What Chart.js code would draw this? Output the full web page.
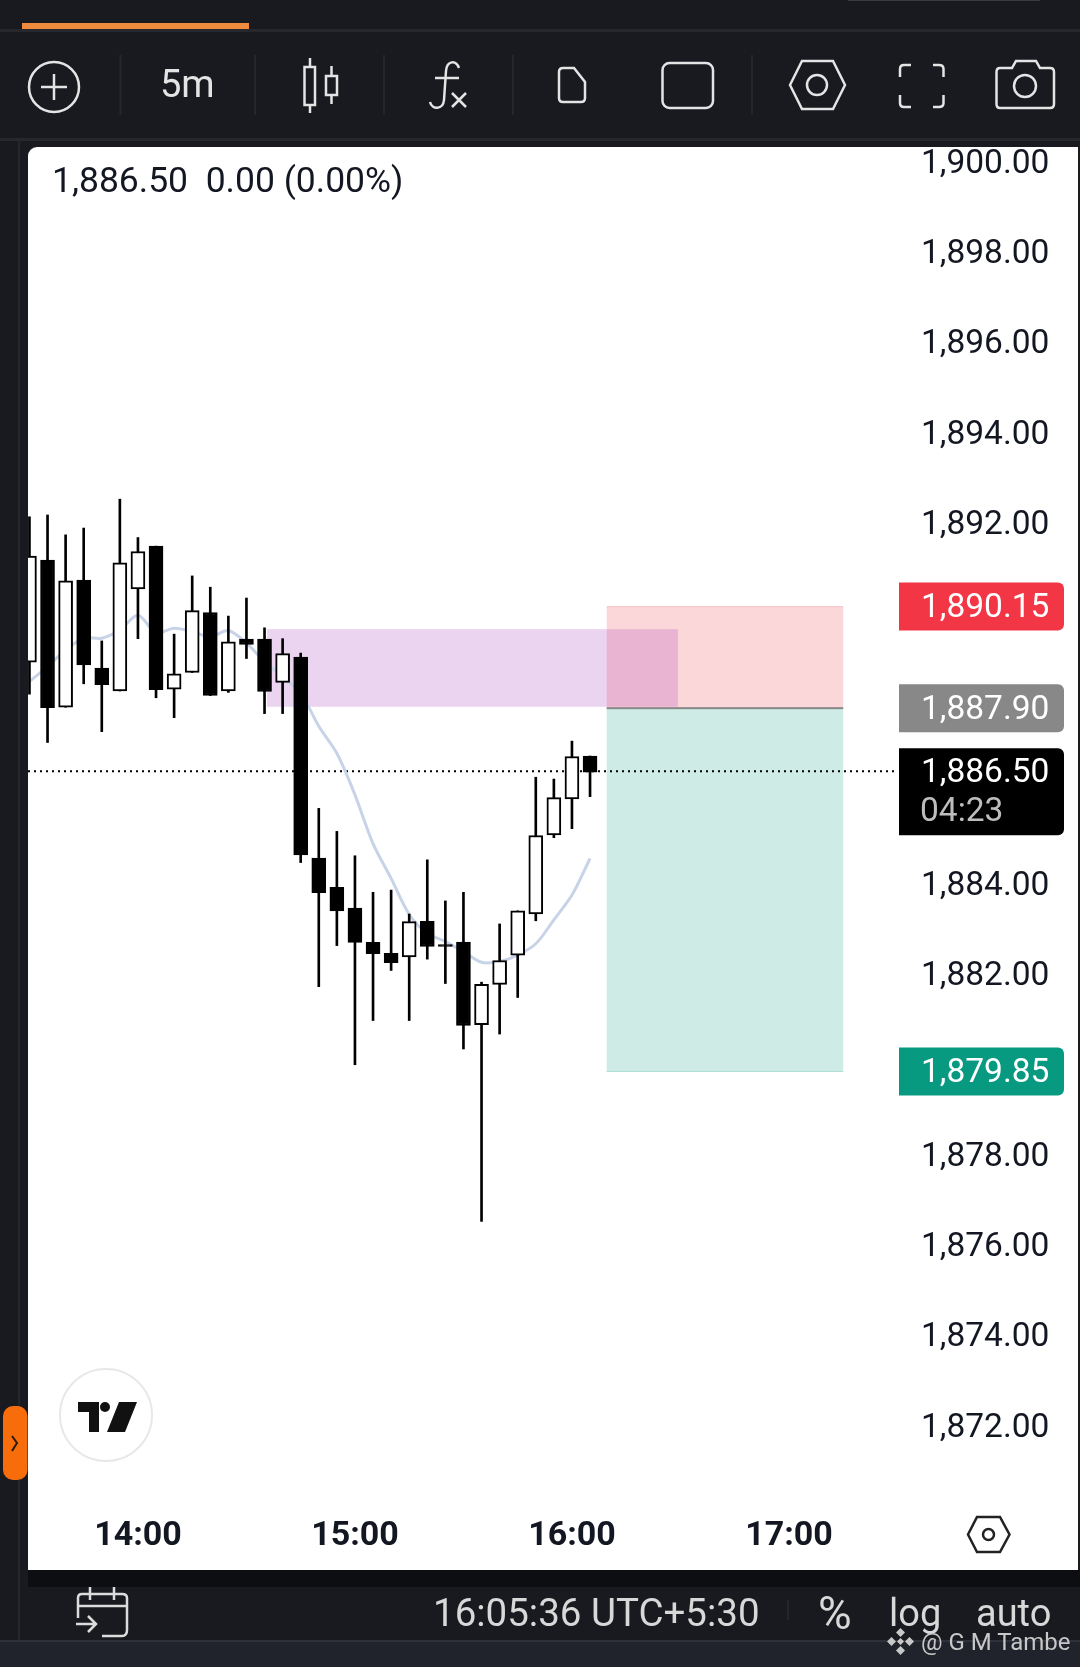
<!DOCTYPE html>
<html>
<head>
<meta charset="utf-8">
<title>5m chart</title>
<script src="https://cdn.jsdelivr.net/npm/chart.js@4/dist/chart.umd.min.js"></script>
<style>
    html, body { margin: 0; padding: 0; background: #181a20; }
    body { position: relative; width: 1080px; height: 1667px; overflow: hidden; font-family: Roboto, sans-serif; }
    .abs { position: absolute; }
    .txt { position: absolute; white-space: pre; line-height: 1; }
    #panel { left: 28px; top: 147px; width: 1050px; height: 1423px; background: #fff; border-top-left-radius: 9px; }
    #chartCanvas { position: absolute; left: 0; top: 0; }
    #icons { position: absolute; left: 0; top: 0; }
</style>
</head>
<body>

<!-- chrome behind the chart -->
<div class="abs" style="left:0;top:29px;width:1080px;height:3px;background:#26282e;"></div>
<div class="abs" style="left:22px;top:23px;width:227px;height:6px;background:#f08a3c;"></div>
<div class="abs" style="left:848px;top:0;width:192px;height:1px;background:#3a3c42;"></div>
<div class="abs" style="left:0;top:138px;width:1080px;height:3px;background:#26282e;"></div>
<div class="abs" style="left:18px;top:141px;width:2px;height:1500px;background:#24262c;"></div>
<div class="abs" style="left:28px;top:1570px;width:1052px;height:17px;background:#0d0e11;"></div>
<div class="abs" style="left:0;top:1640px;width:1080px;height:27px;background:#20232b;border-top:2px solid #2e3139;box-sizing:border-box;"></div>
<div class="abs" id="panel"></div>

<canvas id="chartCanvas" width="1080" height="1667"></canvas>

<svg id="icons" width="1080" height="1667" viewBox="0 0 1080 1667" fill="none" stroke="#e4e4e4" stroke-width="2.5">
    <!-- toolbar separators -->
    <g stroke="#24262c" stroke-width="2">
        <path d="M120.5 55V115M255 55V115M384 55V115M513 55V115M752 55V115"/>
    </g>
    <!-- add -->
    <circle cx="54" cy="87" r="25"/>
    <path d="M41 87H67M54 74V100"/>
    <!-- candles -->
    <rect x="304.5" y="67" width="10.5" height="38"/>
    <path d="M310 58V67M310 105V113"/>
    <rect x="326" y="76" width="11" height="19"/>
    <path d="M331.5 66V76M331.5 95V104"/>
    <!-- fx -->
    <path d="M459 68C456 60 447 60 446 71L444 100C443 110 432 110 430 102M435 78H459"/>
    <path d="M452 93L466 107M466 93L452 107"/>
    <!-- page -->
    <path d="M563 68H574L585 82V98Q585 102 581 102H563Q559 102 559 98V72Q559 68 563 68Z"/>
    <!-- rectangle -->
    <rect x="662.5" y="63" width="50.5" height="45" rx="7"/>
    <!-- settings hexagon -->
    <path d="M790 85L802 61H833L845 85L833 109H802Z"/>
    <circle cx="817" cy="85" r="10"/>
    <!-- fullscreen -->
    <path d="M900 77V69Q900 65 904 65H911M933 65H939Q943.5 65 943.5 69V77M943.5 95V103Q943.5 107 939 107H933M911 107H904Q900 107 900 103V95"/>
    <!-- camera -->
    <path d="M1000 68H1012L1016 61H1036L1040 68H1050Q1054 68 1054 72V104Q1054 108 1050 108H1000Q996.5 108 996.5 104V72Q996.5 68 1000 68Z"/>
    <circle cx="1025" cy="86" r="11"/>

    <!-- side tab -->
    <rect x="3" y="1406" width="24.5" height="74" rx="10" fill="#f76d0b" stroke="none"/>
    <path d="M12 1436L17 1443L12 1451" stroke="#2b1a08" stroke-width="2"/>

    <!-- logo -->
    <circle cx="106" cy="1415" r="46" stroke="#e8e8e8" stroke-width="2"/>
    <path d="M78 1402H99V1432H89V1412H78Z" fill="#111" stroke="none"/>
    <circle cx="105" cy="1407" r="5" fill="#111" stroke="none"/>
    <path d="M119 1402H137L125 1432H107Z" fill="#111" stroke="none"/>

    <!-- axis settings -->
    <path d="M968 1534.5L977 1517H1000L1009.5 1534.5L1000 1552H977Z" stroke="#222"/>
    <circle cx="988.5" cy="1534.5" r="5.5" stroke="#222"/>

    <!-- go to date -->
    <path d="M78 1618V1598Q78 1594 82 1594H122Q127 1594 127 1598V1630Q127 1636 122 1636H102" stroke="#dcdcdc"/>
    <path d="M78 1606H127M90 1587V1600M114 1587V1600" stroke="#dcdcdc"/>
    <path d="M76 1624H96M88 1616L96 1624L88 1632" stroke="#dcdcdc"/>

    <path d="M788 1600V1620" stroke="#24262c" stroke-width="2"/>

    <!-- watermark mark -->
    <g fill="#c8c8c8" stroke="none">
        <path d="M900.5 1628L905 1632.5L900.5 1637L896 1632.5Z"/>
        <path d="M900.5 1646L905 1650.5L900.5 1655L896 1650.5Z"/>
        <path d="M891.5 1637L896 1641.5L891.5 1646L887 1641.5Z"/>
        <path d="M909.5 1637L914 1641.5L909.5 1646L905 1641.5Z"/>
        <path d="M900.5 1638L904 1641.5L900.5 1645L897 1641.5Z"/>
    </g>
</svg>

<!-- texts -->
<div class="txt" style="left:52px;top:163px;font-size:35.5px;color:#131722;">1,886.50  0.00 (0.00%)</div>
<div class="txt" style="left:160px;top:65px;font-size:38px;color:#e4e4e4;">5m</div>
<div class="txt" style="left:433px;top:1594px;font-size:38.5px;color:#d8d8d8;">16:05:36 UTC+5:30</div>
<div class="txt" style="left:818px;top:1590px;font-size:46px;color:#d8d8d8;">%</div>
<div class="txt" style="left:889px;top:1594px;font-size:38px;color:#d8d8d8;">log</div>
<div class="txt" style="left:976px;top:1594px;font-size:38px;color:#d8d8d8;">auto</div>
<div class="txt" style="left:921px;top:1630px;font-size:24px;color:#c8c8c8;">@ G M Tambe</div>

<script>
    // 5 minute bars
    var times = ['13:30', '13:35', '13:40', '13:45', '13:50', '13:55', '14:00', '14:05',
        '14:10', '14:15', '14:20', '14:25', '14:30', '14:35', '14:40', '14:45',
        '14:50', '14:55', '15:00', '15:05', '15:10', '15:15', '15:20', '15:25',
        '15:30', '15:35', '15:40', '15:45', '15:50', '15:55', '16:00', '16:05'];
    var opens = [1888.92, 1891.18, 1887.92, 1890.74, 1888.79, 1888.28, 1890.54, 1891.49,
        1888.32, 1888.69, 1890.02, 1888.28, 1889.43, 1889.43, 1888.47, 1889.03,
        1884.58, 1883.93, 1883.47, 1882.71, 1882.47, 1882.39, 1883.18, 1882.66,
        1882.72, 1880.89, 1881.78, 1882.43, 1883.34, 1885.09, 1885.89, 1886.84];
    var closes = [1891.27, 1887.91, 1890.72, 1888.86, 1888.42, 1891.12, 1891.37, 1888.31,
        1888.66, 1890.06, 1888.18, 1889.37, 1889.31, 1888.27, 1889.11, 1884.65,
        1883.81, 1883.41, 1882.71, 1882.46, 1882.26, 1883.17, 1882.62, 1882.62,
        1880.87, 1881.78, 1882.31, 1883.41, 1885.08, 1885.92, 1886.83, 1886.48];
    var highs = [1892.14, 1892.18, 1891.74, 1891.89, 1889.39, 1892.53, 1891.68, 1891.49,
        1889.54, 1890.83, 1890.58, 1889.94, 1890.34, 1889.68, 1889.44, 1889.12,
        1885.68, 1885.17, 1884.63, 1883.82, 1883.87, 1883.34, 1884.54, 1883.63,
        1883.82, 1881.83, 1883.12, 1883.41, 1886.37, 1886.33, 1887.17, 1886.84];
    var lows = [1888.21, 1887.14, 1887.92, 1888.44, 1887.38, 1888.28, 1889.44, 1888.13,
        1887.69, 1888.69, 1888.18, 1888.25, 1889.00, 1887.78, 1887.78, 1884.48,
        1881.73, 1882.64, 1880.00, 1880.98, 1882.09, 1880.98, 1882.34, 1881.80,
        1880.35, 1876.53, 1880.68, 1881.49, 1883.19, 1885.03, 1885.23, 1885.94];
    var maValues = [1888.49, 1888.82, 1889.19, 1889.45, 1889.45, 1889.63, 1889.96, 1889.57,
        1889.67, 1889.60, 1889.48, 1889.62, 1889.34, 1888.93, 1888.60, 1888.23,
        1887.50, 1886.90, 1885.98, 1884.90, 1884.13, 1883.33, 1882.91, 1882.73,
        1882.51, 1882.27, 1882.29, 1882.43, 1882.68, 1883.21, 1883.76, 1884.57];

    var priceTicks = [1900, 1898, 1896, 1894, 1892, 1884, 1882, 1878, 1876, 1874, 1872];
    var timeTicks = ['14:00', '15:00', '16:00', '17:00'];

    var lastPrice = 1886.50;
    var countdown = '04:23';
    var stopPrice = 1890.15;
    var entryPrice = 1887.90;
    var targetPrice = 1879.85;
    var positionTimes = ['16:09.6', '17:15'];
    var supplyTimes = ['14:35.7', '16:29.3'];
    var supplyPrices = [1889.65, 1887.93];

    function toMinutes(t) {
        var p = t.split(':');
        return parseInt(p[0], 10) * 60 + parseFloat(p[1]);
    }

    function pad(n) {
        return (n < 10 ? '0' : '') + n;
    }

    function formatPrice(v) {
        return v.toLocaleString('en-US', { minimumFractionDigits: 2, maximumFractionDigits: 2 });
    }

    var xMin = 809.6;
    var xMax = 1050.15;

    var wickData = [];
    var bodyData = [];
    var maData = [];
    var bodyFill = [];
    for (var i = 0; i < times.length; i++) {
        var m = toMinutes(times[i]);
        wickData.push({ x: m, y: [lows[i], highs[i]] });
        bodyData.push({ x: m, y: [opens[i], closes[i]] });
        maData.push({ x: m, y: maValues[i] });
        bodyFill.push(closes[i] >= opens[i] ? '#ffffff' : '#000000');
    }

    // position box and supply box sit under the candles
    var zonesPlugin = {
        id: 'zones',
        beforeDatasetsDraw: function (chart) {
            var c = chart.ctx;
            var xs = chart.scales.x;
            var ys = chart.scales.y;
            var left = xs.getPixelForValue(toMinutes(positionTimes[0]));
            var right = xs.getPixelForValue(toMinutes(positionTimes[1]));
            var stopY = ys.getPixelForValue(stopPrice);
            var entryY = ys.getPixelForValue(entryPrice);
            var targetY = ys.getPixelForValue(targetPrice);

            c.save();
            c.fillStyle = 'rgba(242,54,69,0.2)';
            c.fillRect(left, stopY, right - left, entryY - stopY);
            c.fillStyle = 'rgba(8,153,129,0.2)';
            c.fillRect(left, entryY, right - left, targetY - entryY);

            c.fillStyle = 'rgba(242,54,69,0.22)';
            c.fillRect(left, stopY - 0.5, right - left, 1);
            c.fillStyle = 'rgba(8,153,129,0.25)';
            c.fillRect(left, targetY - 0.5, right - left, 1);
            c.fillStyle = '#888888';
            c.fillRect(left, entryY - 1, right - left, 2);

            var sl = xs.getPixelForValue(toMinutes(supplyTimes[0]));
            var sr = xs.getPixelForValue(toMinutes(supplyTimes[1]));
            var st = ys.getPixelForValue(supplyPrices[0]);
            var sb = ys.getPixelForValue(supplyPrices[1]);
            c.fillStyle = 'rgba(156,39,176,0.2)';
            c.fillRect(sl, st, sr - sl, sb - st);
            c.restore();
        }
    };

    function priceTag(chart, value, color, height, offsetTop) {
        var c = chart.ctx;
        var y = chart.scales.y.getPixelForValue(value);
        var top = y - offsetTop;
        c.fillStyle = color;
        c.beginPath();
        c.roundRect(899, top, 165, height, [0, 6, 6, 0]);
        c.fill();
        c.fillStyle = '#ffffff';
        c.font = '33.5px Roboto';
        c.textAlign = 'left';
        c.textBaseline = 'middle';
        c.fillText(formatPrice(value), 921, y + 2.5);
    }

    var tagsPlugin = {
        id: 'tags',
        afterDraw: function (chart) {
            var c = chart.ctx;
            c.save();
            priceTag(chart, stopPrice, '#f23645', 48, 24);
            priceTag(chart, entryPrice, '#888888', 48, 24);
            priceTag(chart, targetPrice, '#089981', 48, 24);
            priceTag(chart, lastPrice, '#000000', 87, 23);
            c.fillStyle = '#bdbdbd';
            c.fillText(countdown, 920, chart.scales.y.getPixelForValue(lastPrice) + 41);
            c.restore();
        }
    };

    new Chart(document.getElementById('chartCanvas'), {
        data: {
            datasets: [
                {
                    type: 'line',
                    label: 'Last',
                    data: [{ x: xMin, y: lastPrice }, { x: xMax - 0.6, y: lastPrice }],
                    borderColor: '#000000',
                    borderWidth: 2,
                    borderDash: [2, 4],
                    pointRadius: 0,
                    order: 4
                },
                {
                    type: 'line',
                    label: 'MA',
                    data: maData,
                    borderColor: '#c8d3e8',
                    borderWidth: 3,
                    pointRadius: 0,
                    tension: 0.3,
                    order: 3
                },
                {
                    type: 'bar',
                    label: 'Wick',
                    data: wickData,
                    backgroundColor: '#000000',
                    barThickness: 2,
                    grouped: false,
                    order: 2
                },
                {
                    type: 'bar',
                    label: 'Body',
                    data: bodyData,
                    backgroundColor: bodyFill,
                    borderColor: '#000000',
                    borderWidth: 2,
                    borderSkipped: false,
                    barThickness: 14,
                    grouped: false,
                    order: 1
                }
            ]
        },
        options: {
            responsive: false,
            animation: false,
            events: [],
            layout: { padding: { left: 28, top: 147, right: 2, bottom: 97 } },
            plugins: { legend: { display: false }, tooltip: { enabled: false } },
            scales: {
                x: {
                    type: 'linear',
                    offset: false,
                    min: xMin,
                    max: xMax,
                    grid: { display: false, drawTicks: false, offset: false },
                    border: { display: false },
                    afterBuildTicks: function (axis) {
                        axis.ticks = timeTicks.map(function (t) { return { value: toMinutes(t) }; });
                    },
                    afterFit: function (axis) { axis.height = 70; },
                    ticks: {
                        autoSkip: false,
                        maxRotation: 0,
                        padding: 16,
                        color: '#131722',
                        font: { family: 'Roboto', size: 34, weight: '700' },
                        callback: function (v) {
                            return pad(Math.floor(v / 60)) + ':' + pad(v % 60);
                        }
                    }
                },
                y: {
                    type: 'linear',
                    position: 'right',
                    min: 1870.358,
                    max: 1900.332,
                    grid: { display: false, drawTicks: false },
                    border: { display: false },
                    afterBuildTicks: function (axis) {
                        axis.ticks = priceTicks.map(function (v) { return { value: v }; });
                    },
                    afterFit: function (axis) { axis.width = 180; },
                    ticks: {
                        autoSkip: false,
                        padding: 23,
                        labelOffset: 2.5,
                        color: '#131722',
                        font: { family: 'Roboto', size: 33.5 },
                        callback: function (v) { return formatPrice(v); }
                    }
                }
            }
        },
        plugins: [zonesPlugin, tagsPlugin]
    });
</script>
</body>
</html>
